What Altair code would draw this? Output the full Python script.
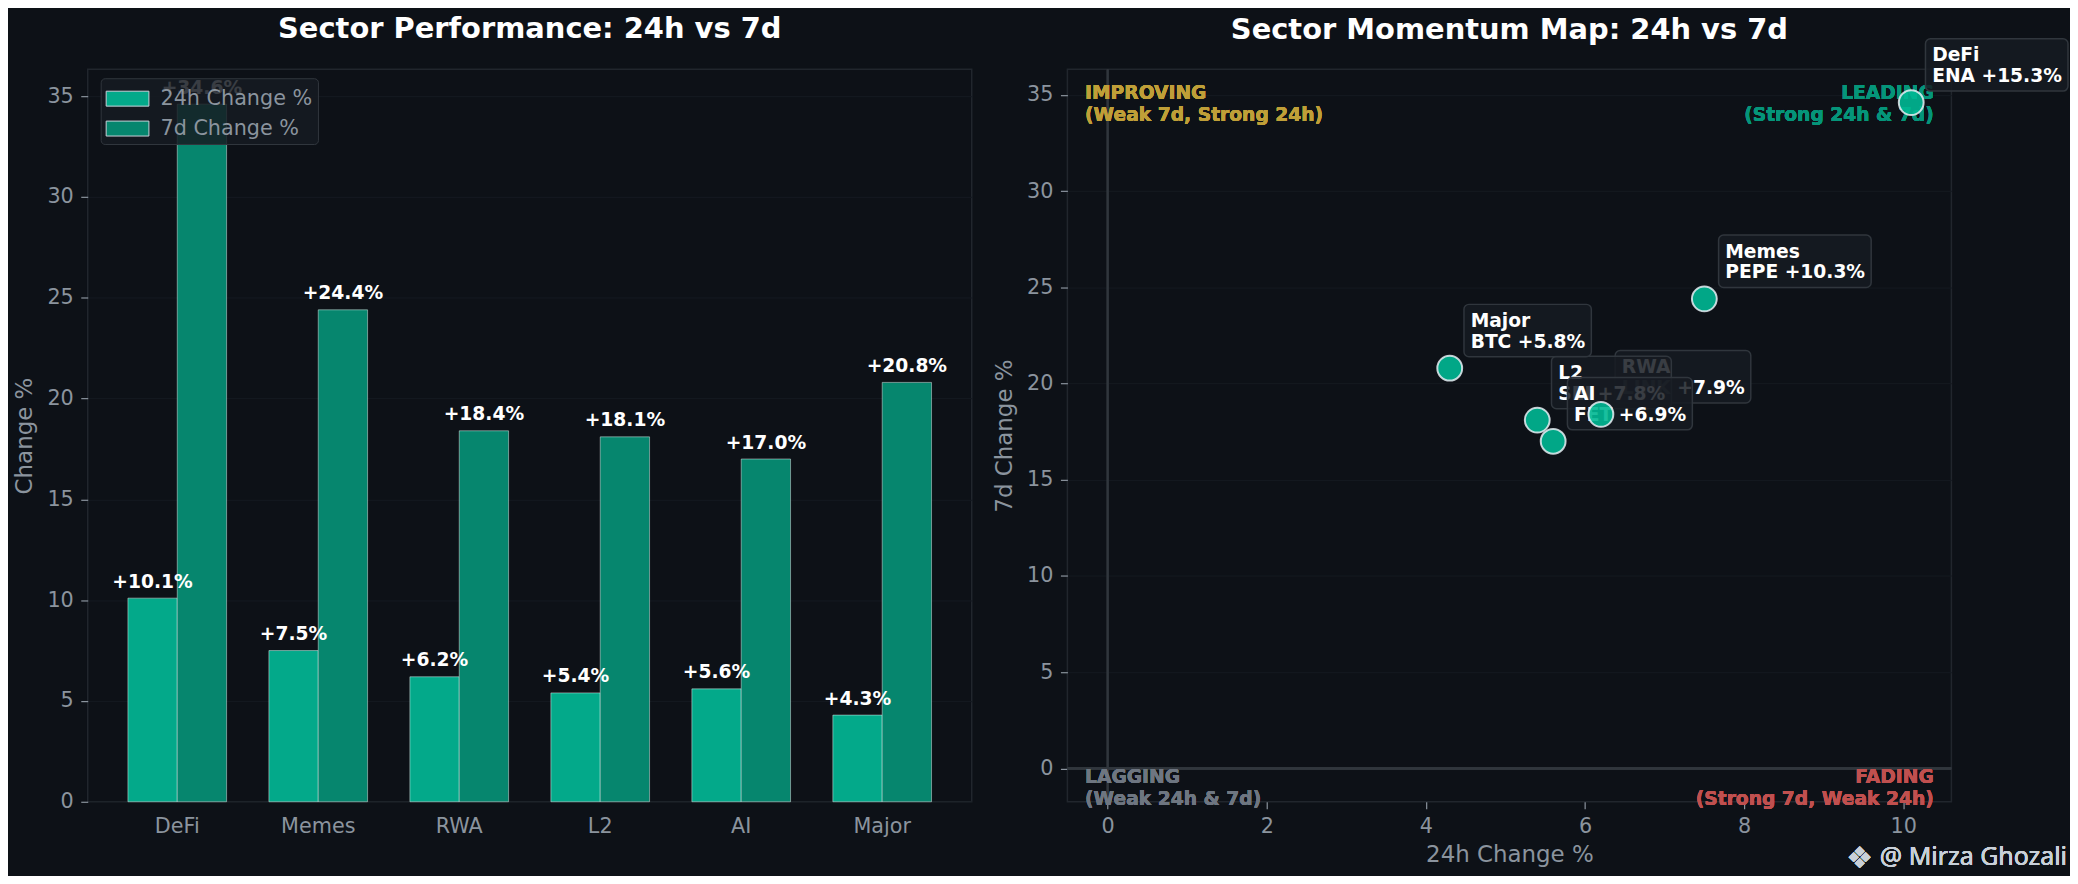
import altair as alt
import pandas as pd

# ---------------- data ----------------
sectors = ["DeFi", "Memes", "RWA", "L2", "AI", "Major"]
change_24h = [10.1, 7.5, 6.2, 5.4, 5.6, 4.3]
change_7d = [34.6, 24.4, 18.4, 18.1, 17.0, 20.8]
top_coins = ["ENA", "PEPE", "LINK", "SEI", "FET", "BTC"]
top_coin_change = [15.3, 10.3, 7.9, 7.8, 6.9, 5.8]
series_names = ["24h Change %", "7d Change %"]
y_ticks = [0, 5, 10, 15, 20, 25, 30, 35]
x_ticks_scatter = [0, 2, 4, 6, 8, 10]
quad_improving = ["IMPROVING", "(Weak 7d, Strong 24h)"]
quad_leading = ["LEADING", "(Strong 24h & 7d)"]
quad_lagging = ["LAGGING", "(Weak 24h & 7d)"]
quad_fading = ["FADING", "(Strong 7d, Weak 24h)"]
watermark = "@ Mirza Ghozali"

# ---------------- style ----------------
BG = "#0d1117"
FONT = "DejaVu Sans"
GREY = "#8b949e"
C24 = "#03a98a"
C7 = "#06866e"
W = 887
H = 735
TICK_FS = 20.8
TITLE_FS = 23
LAB_FS = 18.75

bar_rows = []
for s, a, b in zip(sectors, change_24h, change_7d):
    bar_rows.append({"sector": s, "series": series_names[0], "value": a, "label": f"+{a:.1f}%"})
    bar_rows.append({"sector": s, "series": series_names[1], "value": b, "label": f"+{b:.1f}%"})
bars_df = pd.DataFrame(bar_rows)

pts_df = pd.DataFrame({
    "sector": sectors,
    "x": change_24h,
    "y": change_7d,
    "label": [f"{s}\n{c} +{v:.1f}%" for s, c, v in zip(sectors, top_coins, top_coin_change)],
})

# ---------------- left: grouped bars ----------------
y_max = max(change_7d) * 1.05

y_axis = alt.Axis(values=y_ticks, title="Change %", tickSize=7, tickColor=GREY, tickWidth=1.2,
                  labelPadding=7.5, labelFontSize=TICK_FS, labelColor=GREY, labelFont=FONT,
                  titleFontSize=TITLE_FS, titleColor=GREY, titleFontWeight="normal", titleFont=FONT,
                  titlePadding=10, grid=True, gridColor="#151a21", gridWidth=1, domain=False)

x_bar = alt.X("sector:N", sort=sectors,
              scale=alt.Scale(paddingInner=0.3, paddingOuter=0.285),
              axis=alt.Axis(title=None, labelAngle=0, ticks=False, labelPadding=14.5,
                            labelFontSize=TICK_FS, labelColor=GREY, labelFont=FONT,
                            domain=False, grid=False))
xoff = alt.XOffset("series:N", sort=series_names, scale=alt.Scale(paddingInner=0, paddingOuter=0))
y_bar = alt.Y("value:Q", scale=alt.Scale(domain=[0, y_max], nice=False, zero=True), axis=y_axis)

legend_path = "M-1,-0.5H1.86V0.5H-1Z"
color_bar = alt.Color("series:N", sort=series_names,
                      scale=alt.Scale(domain=series_names, range=[C24, C7]),
                      legend=alt.Legend(title=None, orient="none", legendX=13, legendY=9,
                                        symbolType=legend_path, symbolSize=900,
                                        symbolStrokeColor="#c9d1d9", symbolStrokeWidth=1,
                                        symbolOpacity=1, labelFontSize=TICK_FS, labelColor=GREY,
                                        labelFont=FONT, labelOffset=24, labelLimit=400,
                                        rowPadding=4, padding=5, fillColor="rgba(22,27,34,0.85)",
                                        strokeColor="#30363d", cornerRadius=4))

bars = alt.Chart(bars_df).mark_bar(stroke="#ffffff", strokeOpacity=0.55, strokeWidth=0.8).encode(
    x=x_bar, xOffset=xoff, y=y_bar, color=color_bar)
bar_labels = alt.Chart(bars_df).mark_text(
    dy=-10.5, baseline="alphabetic", align="center", fontWeight="bold", fontSize=LAB_FS,
    color="#ffffff", font=FONT).encode(x=x_bar, xOffset=xoff, y=y_bar, text="label:N")

LEFT_OFFSET = 2
left = alt.layer(bars, bar_labels).properties(
    width=W, height=H,
    title=alt.Title("Sector Performance: 24h vs 7d", fontSize=29, fontWeight="bold", color="#ffffff",
                    font=FONT, offset=LEFT_OFFSET, baseline="alphabetic", anchor="middle",
                    frame="group"))

# ---------------- right: momentum scatter ----------------
xmax = max(change_24h)
xmin = min(0, min(change_24h))
xm = 0.05 * (xmax - xmin)
x_dom = [xmin - xm, xmax + xm]
ymax = max(change_7d)
ymin = min(0, min(change_7d))
ym = 0.05 * (ymax - ymin)
y_dom = [ymin - ym, ymax + ym]

x_sc = alt.X("x:Q", scale=alt.Scale(domain=x_dom, nice=False, zero=False),
             axis=alt.Axis(values=x_ticks_scatter, format="d", title="24h Change %", tickSize=7,
                           tickColor=GREY, tickWidth=1.2, labelPadding=7.5, labelFontSize=TICK_FS,
                           labelColor=GREY, labelFont=FONT, titleFontSize=TITLE_FS,
                           titleColor=GREY, titleFontWeight="normal", titleFont=FONT,
                           titlePadding=7.5, grid=False, domain=False))
y_sc = alt.Y("y:Q", scale=alt.Scale(domain=y_dom, nice=False, zero=False),
             axis=alt.Axis(values=y_ticks, format="d", title="7d Change %", tickSize=7,
                           tickColor=GREY, tickWidth=1.2, labelPadding=7.5, labelFontSize=TICK_FS,
                           labelColor=GREY, labelFont=FONT, titleFontSize=TITLE_FS,
                           titleColor=GREY, titleFontWeight="normal", titleFont=FONT,
                           titlePadding=10.5, grid=True, gridColor="#151a21", gridWidth=1,
                           domain=False))

base = alt.Chart(pts_df)

vrule = base.mark_rule(color="#30363d", strokeWidth=1.5).encode(x=alt.datum(0, type="quantitative"))
hrule = base.mark_rule(color="#30363d", strokeWidth=2).encode(y=alt.datum(0, type="quantitative"))


def quad(lines, color, xpix, ypix, align, baseline):
    return base.mark_text(text=lines, color=color, fontSize=LAB_FS, fontWeight="bold", font=FONT,
                          align=align, baseline=baseline, lineHeight=22).encode(
        x=alt.value(xpix), y=alt.value(ypix))


qx_l = 0.02 * W
qx_r = 0.98 * W
qy_t = 0.02 * H
qy_b = 0.98 * H
quads = [
    quad(quad_improving, "#bf9f38", qx_l, qy_t, "left", "top"),
    quad(quad_leading, "#05957a", qx_r, qy_t, "right", "top"),
    quad(quad_lagging, "#6e7681", qx_l, qy_b, "left", "bottom"),
    quad(quad_fading, "#c0504f", qx_r, qy_b, "right", "bottom"),
]

# DejaVu Sans Bold advance widths (em)
CW = {" ": 0.348, "%": 1.002, "+": 0.838, ".": 0.380, "A": 0.774, "B": 0.762, "C": 0.734,
      "D": 0.830, "E": 0.683, "F": 0.683, "I": 0.372, "K": 0.775, "L": 0.637, "M": 0.995,
      "N": 0.837, "P": 0.733, "R": 0.770, "S": 0.720, "T": 0.682, "W": 1.103, "a": 0.675,
      "e": 0.678, "f": 0.435, "i": 0.343, "j": 0.343, "m": 1.042, "o": 0.687, "r": 0.493,
      "s": 0.595}


def text_w(s):
    return sum(CW.get(ch, 0.696) for ch in s) * LAB_FS


label_layers = []
for lab, s in zip(pts_df["label"], sectors):
    tw = max(text_w(line) for line in lab.split("\n"))
    sub = base.transform_filter(alt.datum.sector == s)
    box = sub.mark_rect(xOffset=14.3, x2Offset=21 + tw + 6, yOffset=-64, y2Offset=-11.5,
                        fill="#161b22", fillOpacity=0.85, stroke="#30363d", strokeWidth=1.5,
                        cornerRadius=5).encode(x=x_sc, x2="x:Q", y=y_sc, y2="y:Q")
    txt = sub.mark_text(xOffset=21, yOffset=-56.5, align="left", baseline="top", lineBreak="\n",
                        lineHeight=21, fontSize=LAB_FS, fontWeight="bold", color="#ffffff",
                        font=FONT).encode(x=x_sc, y=y_sc, text="label:N")
    label_layers += [box, txt]

points = base.mark_circle(size=620, fill="#00b894", fillOpacity=0.9, stroke="#e6edf3",
                          strokeOpacity=0.85, strokeWidth=2, opacity=1).encode(x=x_sc, y=y_sc)

wm_text = base.mark_text(text=watermark, align="right", baseline="alphabetic", fontSize=25,
                         font="Noto Sans", color="#c9d1d9", opacity=0.9).encode(
    x=alt.value(1003), y=alt.value(798))
wm_icon = base.mark_text(text="\u2756", align="center", baseline="middle", fontSize=30,
                         font=FONT, color="#c9d1d9", opacity=0.9).encode(
    x=alt.value(795), y=alt.value(792))

# the DeFi label box pokes out above the plot; the title is placed above all content,
# so shift its offset by that overflow to keep both titles level
defi_py = H * (y_dom[1] - change_7d[0]) / (y_dom[1] - y_dom[0])
overflow = -(defi_py - 64) + 1.5
right_offset = LEFT_OFFSET - overflow

right = alt.layer(vrule, hrule, *quads, *label_layers, points, wm_text, wm_icon).properties(
    width=W, height=H,
    title=alt.Title("Sector Momentum Map: 24h vs 7d", fontSize=29, fontWeight="bold", color="#ffffff",
                    font=FONT, offset=right_offset, baseline="alphabetic", anchor="middle",
                    frame="group"))

chart = alt.hconcat(left, right, spacing=19).resolve_scale(color="independent").resolve_legend(
    color="independent").properties(
    background=BG, padding={"left": 5, "top": 5, "right": 0, "bottom": 0}
).configure(font=FONT).configure_view(stroke="#21262d", strokeWidth=1.5)

chart.save("out.html", embed_options={"renderer": "svg", "actions": False})
